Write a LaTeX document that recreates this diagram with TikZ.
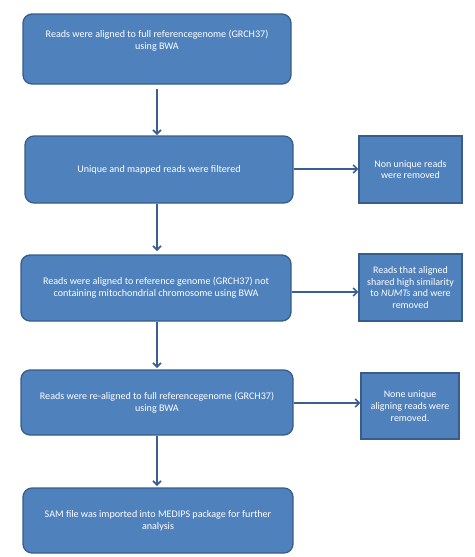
\documentclass[tikz,border=0pt]{standalone}
\usepackage{fontspec}
\setmainfont{Carlito}
\usetikzlibrary{arrows.meta}
\definecolor{boxfill}{HTML}{4F81BD}
\definecolor{boxdraw}{HTML}{385D8A}
\definecolor{arrowcol}{HTML}{3A5F94}
\tikzset{
  mainbox/.style={draw=boxdraw, fill=boxfill, line width=1.3pt, rounded corners=9pt, text=white, align=center, inner sep=0pt, font=\fontsize{10.1}{12}\selectfont},
  sidebox/.style={draw=boxdraw, fill=boxfill, line width=1.3pt, text=white, align=center, inner sep=0pt, font=\fontsize{10}{11.6}\selectfont},
  conn/.style={draw=arrowcol, line width=1.6pt, -{Straight Barb[length=4pt,width=8pt,line width=1.6pt]}},
  hconn/.style={conn, line width=2pt}
}
\begin{document}
\begin{tikzpicture}[x=1pt,y=-1pt]
\useasboundingbox (0,0) rectangle (474,557);
% main boxes
\node[mainbox, minimum width=268pt, minimum height=70pt, text depth=18pt] (b1) at (157,49) {Reads were aligned to full referencegenome (GRCH37)\\using BWA};
\node[mainbox, minimum width=268pt, minimum height=67pt] (b2) at (159,169.5) {Unique and mapped reads were filtered};
\node[mainbox, minimum width=270pt, minimum height=66pt] (b3) at (156,288) {Reads were aligned to reference genome (GRCH37) not\\containing mitochondrial chromosome using BWA};
\node[mainbox, minimum width=272pt, minimum height=65pt] (b4) at (157,402.5) {Reads were re-aligned to full referencegenome (GRCH37)\\using BWA};
\node[mainbox, minimum width=270pt, minimum height=65pt] (b5) at (158,520.5) {SAM file was imported into MEDIPS package for further\\analysis};
% side boxes
\node[sidebox, minimum width=103pt, minimum height=67pt] (s1) at (410.5,169.5) {Non unique reads\\were removed};
\node[sidebox, minimum width=103pt, minimum height=67pt] (s2) at (410.5,287.5) {Reads that aligned\\shared high similarity\\to \textit{NUMTs} and were\\removed};
\node[sidebox, minimum width=98pt, minimum height=66pt] (s3) at (410,406) {None unique\\aligning reads were\\removed.};
% vertical arrows
\draw[conn] (b1.south -| 157,0) ++(0,4) -- (157,135);
\draw[conn] (b2.south -| 157,0) -- (157,251);
\draw[conn] (b3.south -| 157,0) -- (157,368);
\draw[conn] (b4.south -| 157,0) -- (157,486);
% horizontal arrows
\draw[hconn] (b2.east |- 0,169) -- (s1.west |- 0,169);
\draw[hconn] (b3.east |- 0,292) -- (s2.west |- 0,292);
\draw[hconn] (b4.east |- 0,403) -- (s3.west |- 0,403);
\end{tikzpicture}
\end{document}
